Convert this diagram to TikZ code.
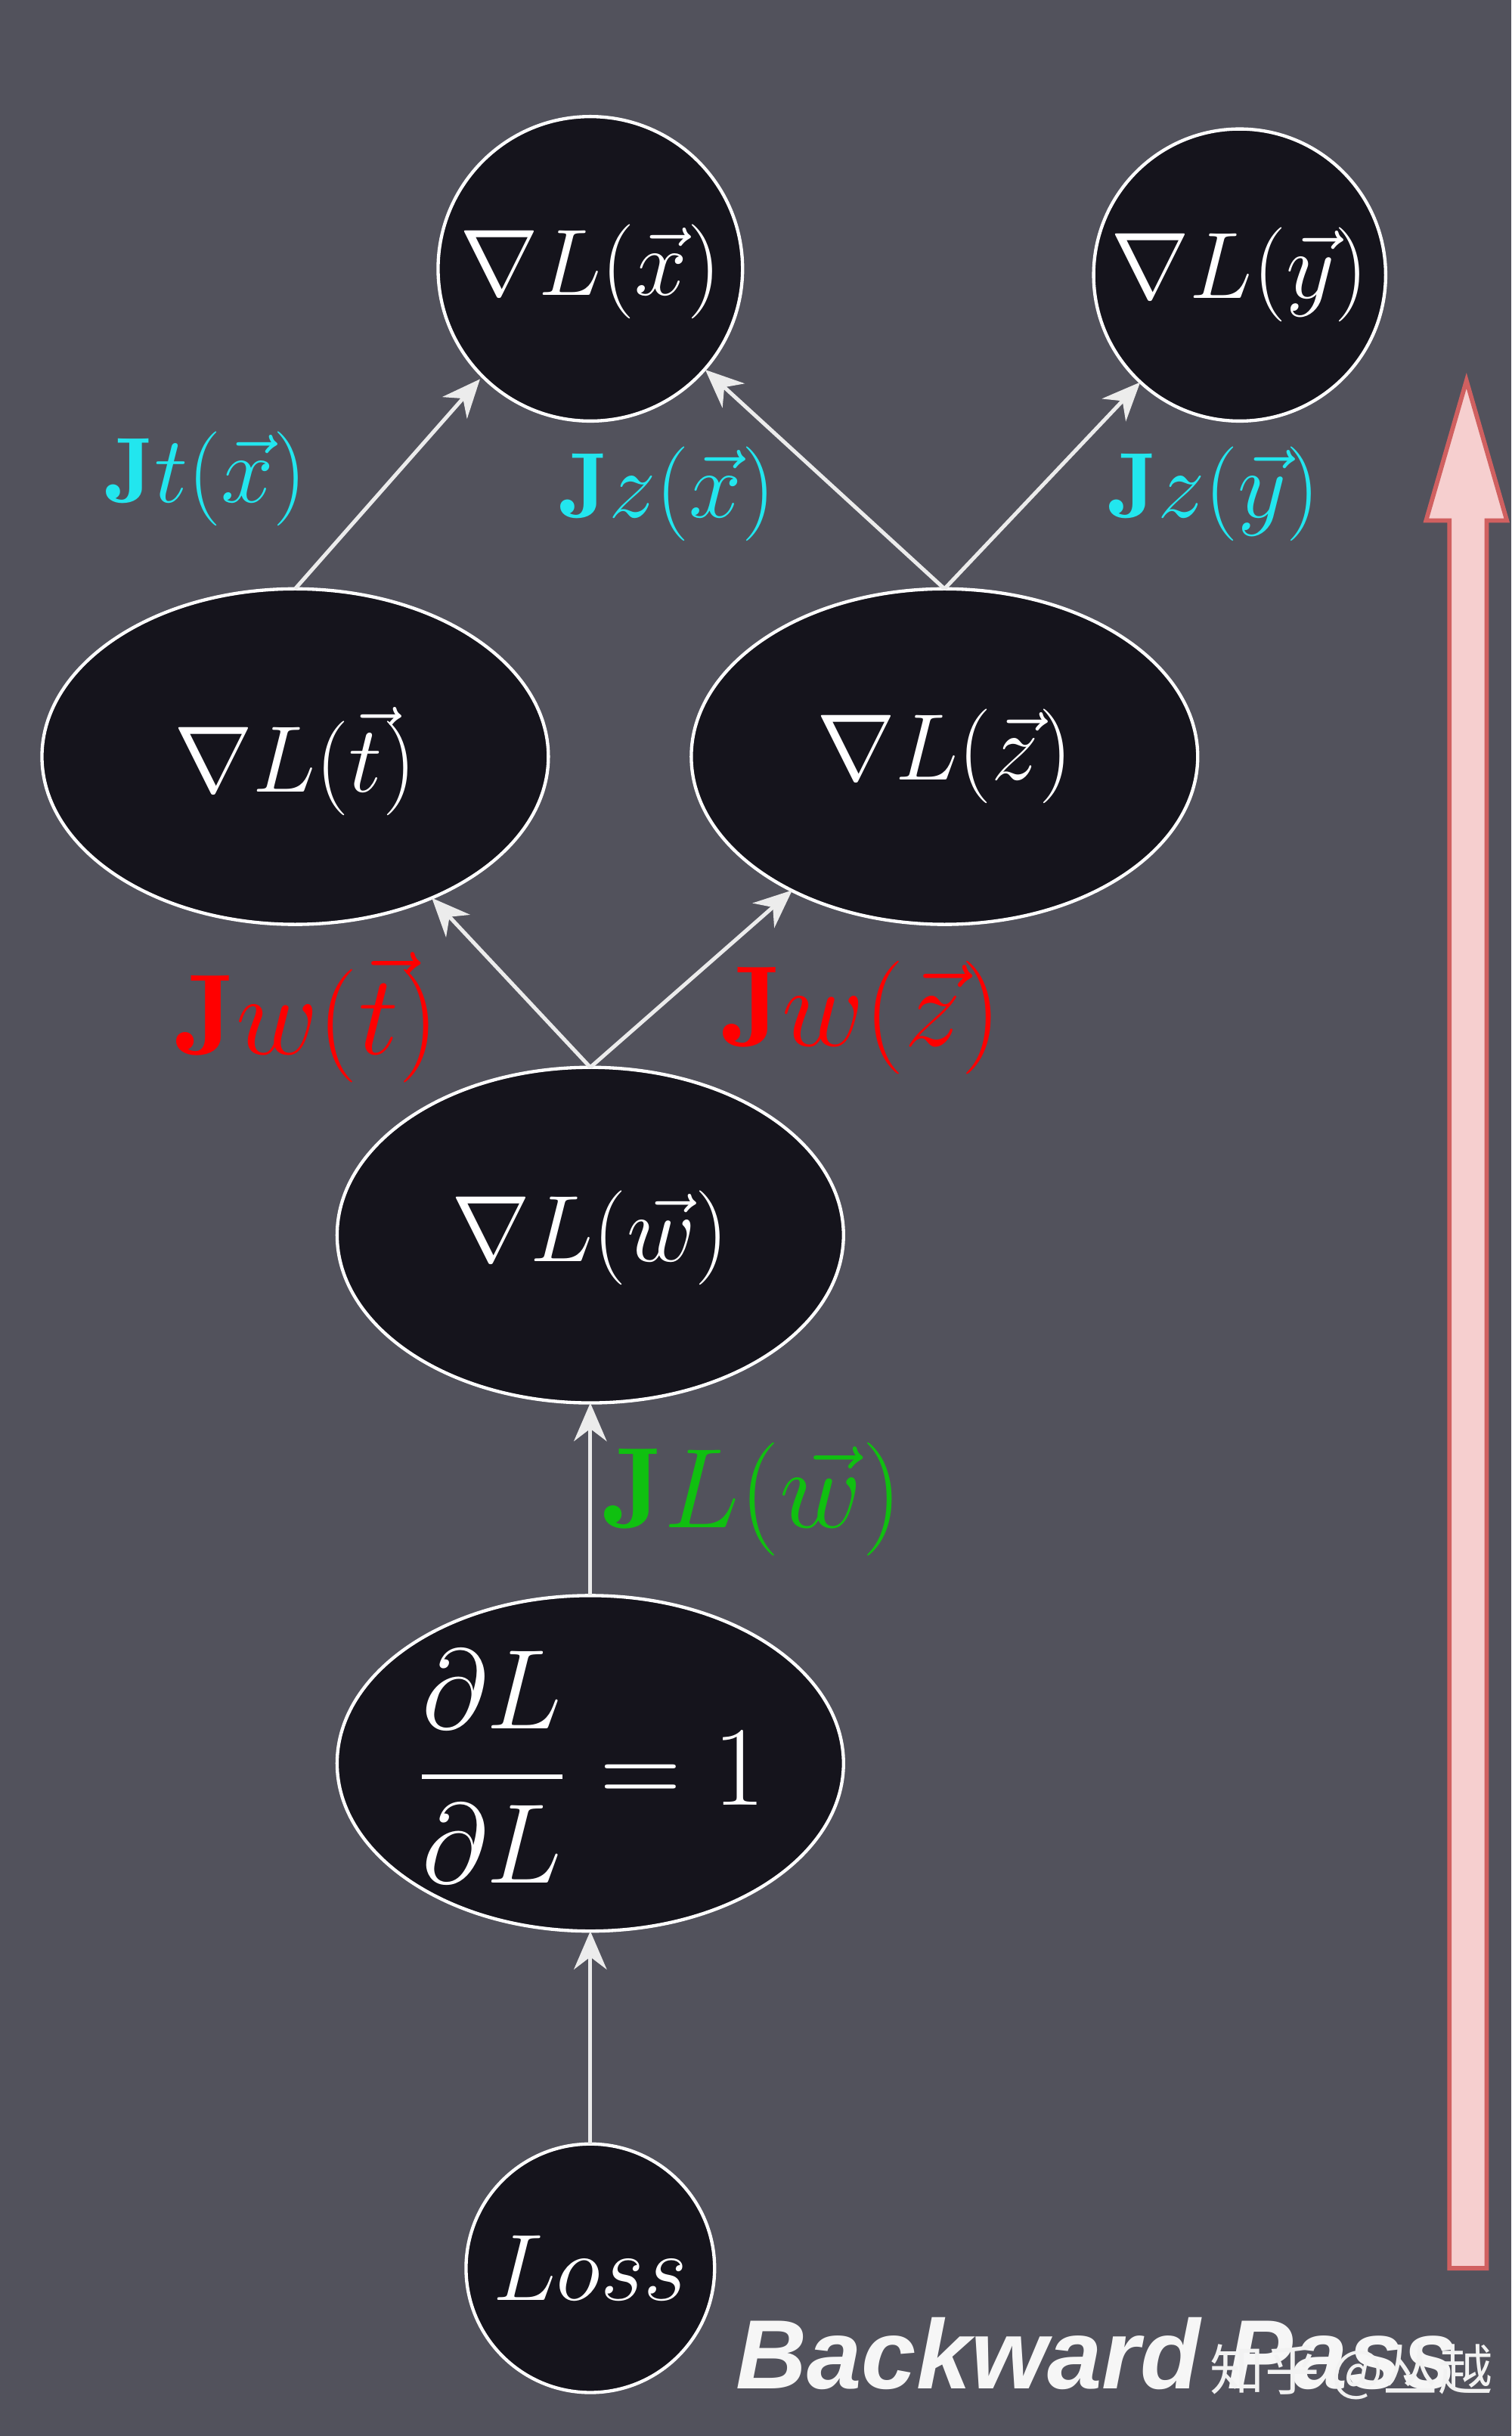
\documentclass[tikz,border=0pt]{standalone}
\usepackage{amsmath}
\usepackage{fontspec}
\newfontfamily\cjkf{Noto Sans CJK SC}
\newfontfamily\bpfont{Liberation Sans}
\usetikzlibrary{arrows.meta}
\definecolor{bg}{HTML}{52525C}
\definecolor{nd}{HTML}{15141C}
\definecolor{pinkf}{HTML}{F6CFCF}
\definecolor{pinkd}{HTML}{D06060}
\definecolor{cy}{HTML}{22E6EE}
\definecolor{gr}{HTML}{10C010}
\begin{document}
\begin{tikzpicture}[x=0.01cm,y=-0.01cm,
  shp/.style={white,line width=0.6pt,fill=nd},
  ntext/.style={text=white,font=\fontsize{18}{22}\selectfont},
  conn/.style={draw=white!85!gray,line width=0.7pt,-{Stealth[length=7pt,width=6pt]}},
  lab/.style={font=\fontsize{17}{21}\selectfont}]
\fill[bg] (0,0) rectangle (973,1568);
\useasboundingbox (0,0) rectangle (973,1568);
\draw[shp] (380,173) circle (98);
\node[ntext] (x) at (380,175) {$\nabla L(\vec{x})$};
\draw[shp] (798,177) circle (94);
\node[ntext] (y) at (798,177) {$\nabla L(\vec{y})$};
\draw[shp] (190,487) ellipse (163 and 108);
\node[ntext] (t) at (190,490) {$\nabla L(\vec{t})$};
\draw[shp] (608,487) ellipse (163 and 108);
\node[ntext] (z) at (608,487) {$\nabla L(\vec{z})$};
\draw[shp] (380,795) ellipse (163 and 108);
\node[ntext] (w) at (380,797) {$\nabla L(\vec{w})$};
\draw[shp] (380,1135) ellipse (163 and 108);
\node[ntext,font=\fontsize{20}{24}\selectfont] (one) at (380,1137) {$\dfrac{\partial L}{\partial L}=1$};
\draw[shp] (380,1460) circle (80);
\node[ntext] (loss) at (380,1460) {$Loss$};
\coordinate (lossT) at (380,1380); \coordinate (oneB) at (380,1243);
\coordinate (oneT) at (380,1027); \coordinate (wB) at (380,903);
\coordinate (wT) at (380,687); \coordinate (tB) at (278,578); \coordinate (zB) at (510,573);
\coordinate (tT) at (190,379); \coordinate (zT) at (608,379);
\coordinate (xB1) at (309,244); \coordinate (xB2) at (454,238); \coordinate (yB) at (734,246);
\draw[conn] (lossT) -- (oneB);
\draw[conn] (oneT) -- (wB);
\draw[conn] (wT) -- (tB);
\draw[conn] (wT) -- (zB);
\draw[conn] (tT) -- (xB1);
\draw[conn] (zT) -- (xB2);
\draw[conn] (zT) -- (yB);
\node[lab,text=cy] at (133,308) {$\mathbf{J}t(\vec{x})$};
\node[lab,text=cy] at (430,318) {$\mathbf{J}z(\vec{x})$};
\node[lab,text=cy] at (782,318) {$\mathbf{J}z(\vec{y})$};
\node[lab,text=red,font=\fontsize{21}{25}\selectfont] at (198,655) {$\mathbf{J}w(\vec{t})$};
\node[lab,text=red,font=\fontsize{21}{25}\selectfont] at (555,655) {$\mathbf{J}w(\vec{z})$};
\node[lab,text=gr,font=\fontsize{21}{25}\selectfont] at (485,965) {$\mathbf{J}L(\vec{w})$};
\draw[pinkd,fill=pinkf,line width=0.8pt] (933,1460) -- (933,335) -- (918,335) -- (944,245) -- (970,335) -- (957,335) -- (957,1460) -- cycle;
\node[text=white!93!gray,font=\bpfont\bfseries\itshape\fontsize{18}{22}\selectfont] (bp) at (706,1515) {Backward Pass};
\node[text=white!90!gray,font=\cjkf\fontsize{10}{12}\selectfont] (wm) at (870,1527) {知乎 @丛越};
\end{tikzpicture}
\end{document}
